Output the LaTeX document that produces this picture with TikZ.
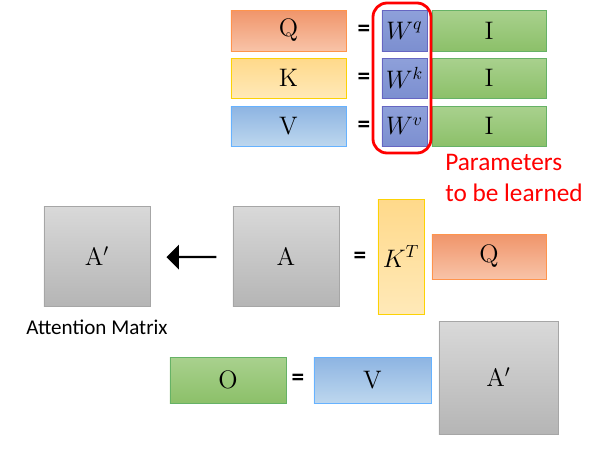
\documentclass[tikz,border=0pt]{standalone}
\usepackage{fontspec}
\newfontfamily\calibri{Carlito}
\usetikzlibrary{positioning, shapes.arrows}
\definecolor{qtop}{HTML}{F0956A}
\definecolor{qbot}{HTML}{F8C3A8}
\definecolor{ktop}{HTML}{FFD98A}
\definecolor{kbot}{HTML}{FFE9B8}
\definecolor{vtop}{HTML}{8DB4E2}
\definecolor{vbot}{HTML}{BDD7EE}
\definecolor{itop}{HTML}{A9D18E}
\definecolor{ibot}{HTML}{8CC069}
\definecolor{wtop}{HTML}{8EA0DA}
\definecolor{wbot}{HTML}{7C8FD0}
\definecolor{gtop}{HTML}{D9D9D9}
\definecolor{gbot}{HTML}{B5B5B5}
\tikzset{
  mat/.style={rectangle, inner sep=0pt, font=\Large},
  qbox/.style={mat, top color=qtop, bottom color=qbot, draw=orange!80!red!70},
  kbox/.style={mat, top color=ktop, bottom color=kbot, draw=yellow!70!orange},
  vbox/.style={mat, top color=vtop, bottom color=vbot, draw=blue!50!cyan!60},
  ibox/.style={mat, top color=itop, bottom color=ibot, draw=green!50!black!60},
  wbox/.style={mat, top color=wtop, bottom color=wbot, draw=blue!60!black!60},
  gbox/.style={mat, top color=gtop, bottom color=gbot, draw=gray!70},
  eq/.style={font=\calibri\bfseries\Large},
  sz/.style 2 args={minimum width=#1*0.02cm, minimum height=#2*0.02cm}
}
\begin{document}
\begin{tikzpicture}[x=0.02cm, y=-0.02cm]
\useasboundingbox (0,0) rectangle (600,454);
% top: Q K V from W and I
\node (q) [qbox, sz={115}{41}] at (288.5,30.5) {Q};
\node (k) [kbox, sz={115}{40}] at (288.5,78) {K};
\node (v) [vbox, sz={115}{40}] at (288.5,126) {V};
\node (eq1) [eq] at (364,31) {=};
\node (eq2) [eq] at (364,79) {=};
\node (eq3) [eq] at (364,127) {=};
\node (wq) [wbox, sz={45}{41}] at (404.5,30.5) {$W^q$};
\node (wk) [wbox, sz={45}{40}] at (404.5,78) {$W^k$};
\node (wv) [wbox, sz={45}{40}] at (404.5,126) {$W^v$};
\node (iq) [ibox, sz={114}{41}] at (489,30.5) {I};
\node (ik) [ibox, sz={114}{40}] at (489,78) {I};
\node (iv) [ibox, sz={114}{40}] at (489,126) {I};
\draw [red, line width=1.6pt, rounded corners=8pt] (373,3) rectangle (431,153);
\node (par) [text=red, font=\calibri\Large, align=left] at (514,178) {Parameters\\to be learned};
% middle: attention
\node (ap) [gbox, sz={106}{100}] at (97,256) {A$'$};
\node (am) [below=4pt of ap, font=\calibri\large] {Attention Matrix};
\node (a) [gbox, sz={106}{100}] at (286,256) {A};
\node (arr) [single arrow, shape border rotate=180, fill=black, minimum height=1.0cm,
  minimum width=0.5cm, single arrow head extend=0.08cm, inner sep=0pt] at (192,257) {};
\node (eq4) [eq] at (360,258) {=};
\node (kt) [kbox, sz={46}{115}] at (401,256.5) {$K^T$};
\node (q2) [qbox, sz={114}{45}] at (489,256.5) {Q};
% bottom: output
\node (o) [ibox, sz={116}{46}] at (228,380) {O};
\node (eq5) [eq] at (298,380) {=};
\node (v2) [vbox, sz={117}{46}] at (372.5,380) {V};
\node (ap2) [gbox, sz={119}{113}] at (498.5,377.5) {A$'$};
\end{tikzpicture}
\end{document}
